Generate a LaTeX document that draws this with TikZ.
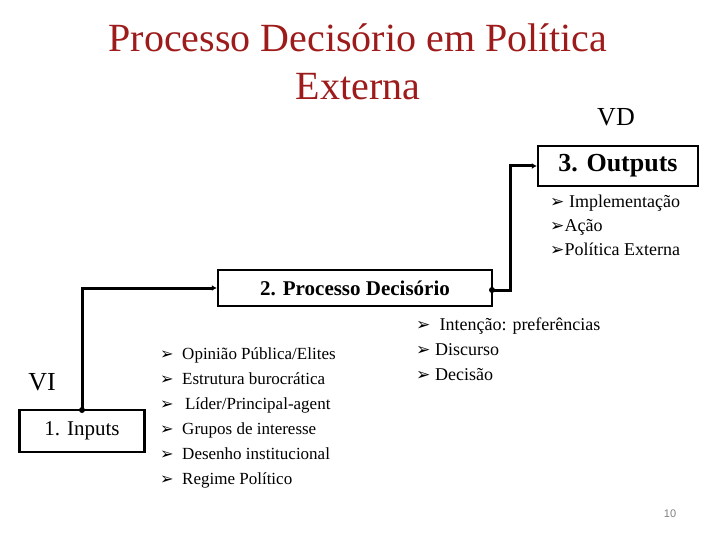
\documentclass[tikz,border=0pt]{standalone}
\usepackage{fontspec}
\setmainfont{Liberation Serif}
\newfontfamily\symf{DejaVu Sans}
\newfontfamily\sansf{Liberation Sans}
\definecolor{titlered}{HTML}{9E1B1B}
\newcommand{\arr}{{\symf\scalebox{0.95}{➢}}}
\usetikzlibrary{arrows.meta}
\begin{document}
\begin{tikzpicture}[x=1pt,y=-1pt,
 box/.style={draw,line width=2.5pt,inner sep=0pt,minimum height=#1},
 conn/.style={line width=3pt,-{Latex[length=5pt,width=6pt]}},
 lst/.style={align=left,anchor=north west,inner sep=0pt}]
\useasboundingbox (0,0) rectangle (720,540);
\node[titlered,font=\fontsize{40}{48}\selectfont,align=center] (t) at (358,62) {Processo Decisório em Política\\Externa};
\node[font=\fontsize{26}{30}\selectfont] (vd) at (616,117) {VD};
\node[font=\fontsize{26}{30}\selectfont] (vi) at (42,382) {VI};
\node[box=40pt,minimum width=160pt,font=\fontsize{26}{30}\selectfont\bfseries] (o) at (618,166) {3. Outputs};
\node[box=36pt,minimum width=274pt,font=\fontsize{21}{25}\selectfont\bfseries] (p) at (355,288) {2. Processo Decisório};
\node[box=42pt,minimum width=125pt,font=\fontsize{21}{25}\selectfont] (i) at (82,431) {1. Inputs};
\coordinate (ia) at (82,410);
\coordinate (pa) at (492,290);
\draw[conn] (ia) |- (p.west);
\draw[conn] (pa) -- (510,290) |- (o.west);
\fill (ia) circle (3pt);
\fill (pa) circle (3pt);
\node[lst,font=\fontsize{18}{24}\selectfont] (ol) at (550,195) {\arr\ Implementação\\\arr Ação\\\arr Política Externa};
\node[lst,font=\fontsize{17}{25}\selectfont] (pl) at (160,347) {\arr\ \ Opinião Pública/Elites\\\arr\ \ Estrutura burocrática\\\arr\ \ \,Líder/Principal-agent\\\arr\ \ Grupos de interesse\\\arr\ \ Desenho institucional\\\arr\ \ Regime Político};
\node[lst,font=\fontsize{18}{25}\selectfont] (dl) at (416,318) {\arr\ \ Intenção: preferências\\\arr\ Discurso\\\arr\ Decisão};
\node[font=\sansf\fontsize{11}{13}\selectfont,text=gray] (n) at (670,514) {10};
\end{tikzpicture}
\end{document}
